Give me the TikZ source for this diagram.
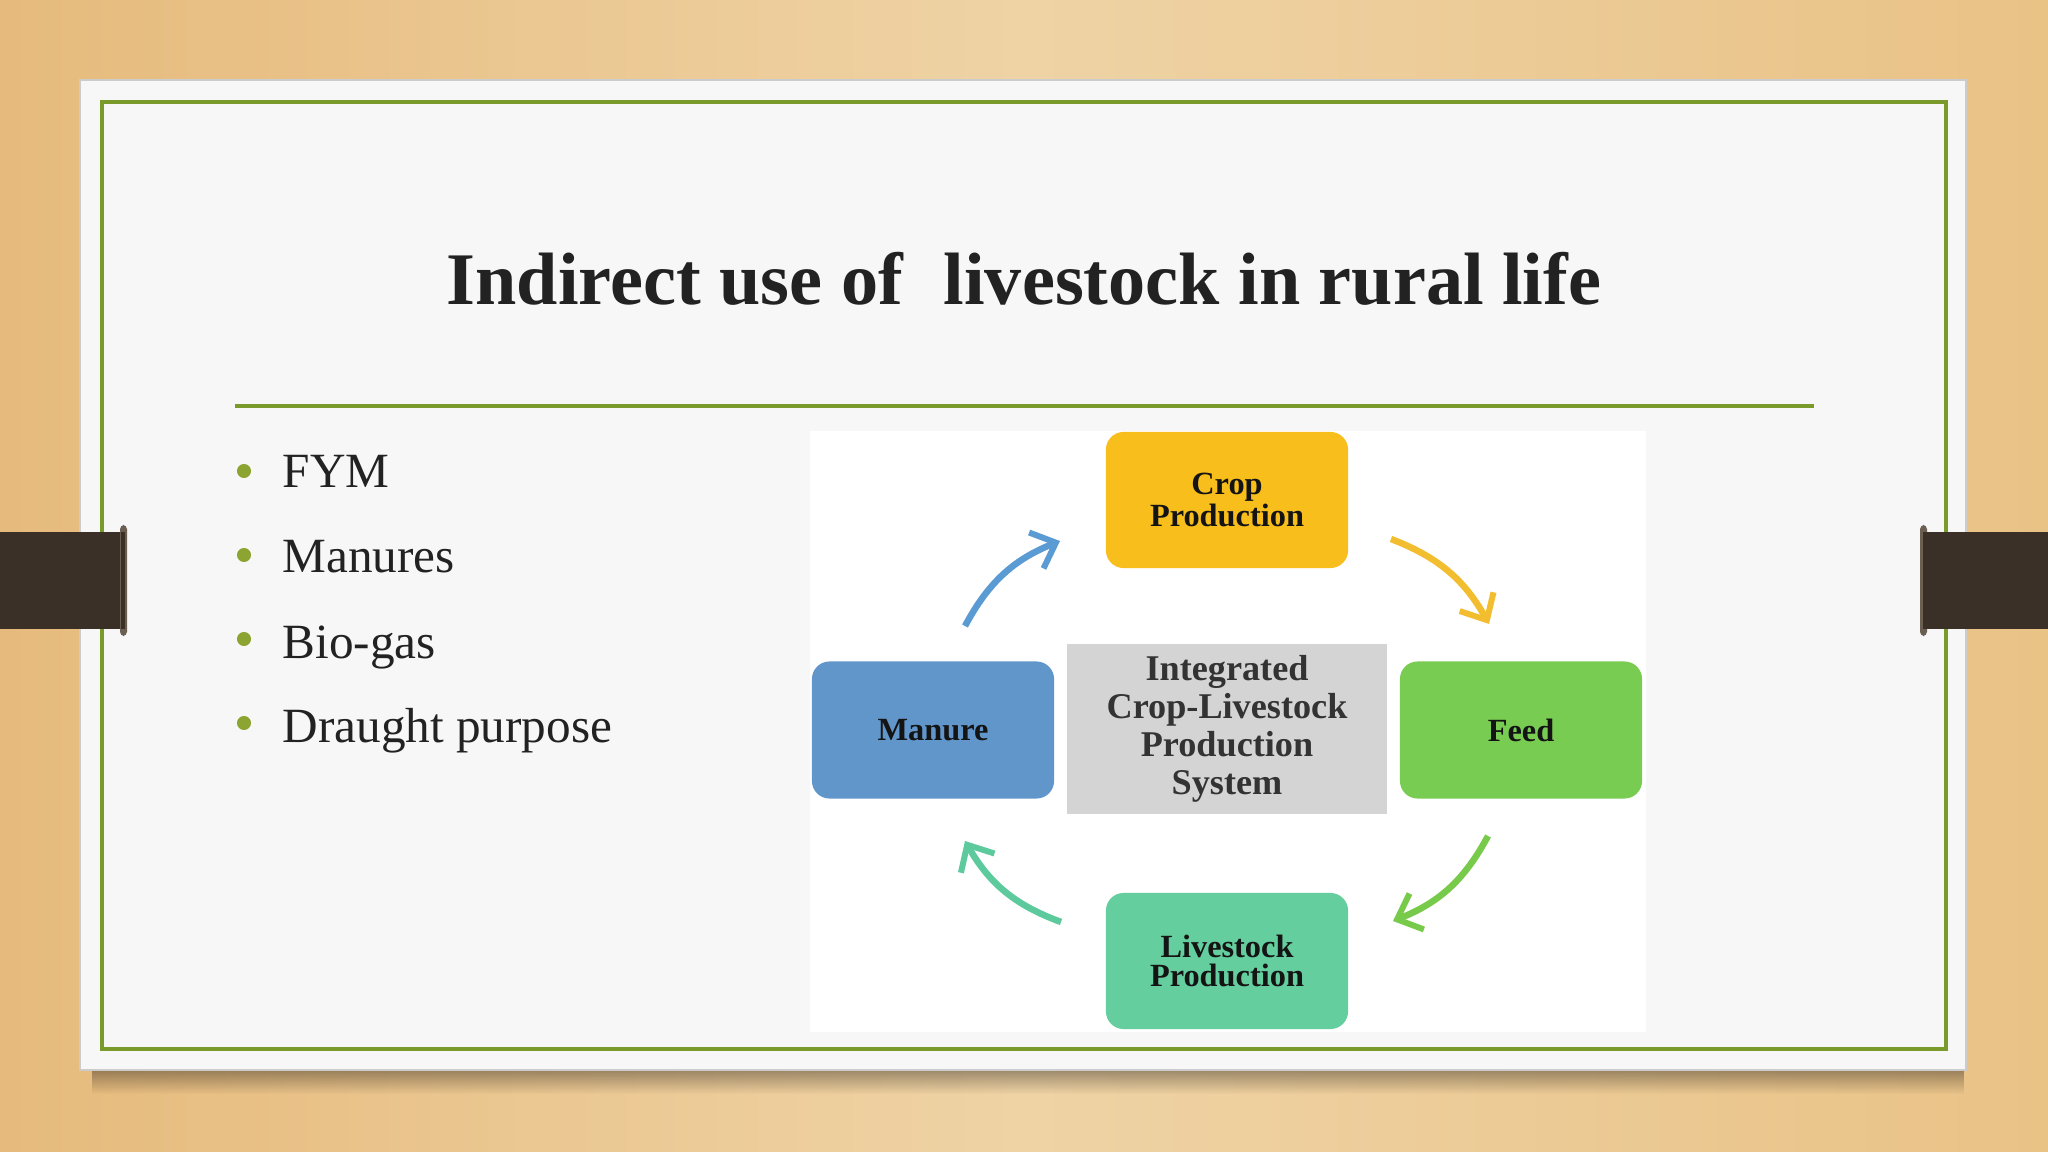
\documentclass[tikz,border=0pt]{standalone}
\usepackage{fontspec}
\setmainfont{Liberation Serif}
\usetikzlibrary{arrows.meta,fadings}
\definecolor{woodL}{HTML}{E6BA7C}
\definecolor{woodM}{HTML}{EFD3A5}
\definecolor{woodR}{HTML}{E9C286}
\definecolor{cardbg}{HTML}{F7F7F7}
\definecolor{olivegreen}{HTML}{7A9A2C}
\definecolor{bulletgreen}{HTML}{8CA532}
\definecolor{bandbrown}{HTML}{3A3027}
\definecolor{nubbrown}{HTML}{6A5F50}
\definecolor{txtdark}{HTML}{222222}
\definecolor{cropfill}{HTML}{F8BE1C}
\definecolor{manurefill}{HTML}{6196CB}
\definecolor{feedfill}{HTML}{79CC52}
\definecolor{livefill}{HTML}{64CE9E}
\definecolor{centerfill}{HTML}{D4D4D4}
\definecolor{arrblue}{HTML}{5B9BD3}
\definecolor{arryellow}{HTML}{F2BD2E}
\definecolor{arrgreen}{HTML}{78CB4A}
\definecolor{arrteal}{HTML}{5DCA9D}
\begin{document}
\begin{tikzpicture}[x=0.01cm,y=-0.01cm,
  colorbox/.style={rounded corners=5pt, minimum width=2.42cm, minimum height=1.36cm,
    inner sep=0pt, align=center, text=black!92,
    font={\fontsize{9.2}{8}\selectfont\bfseries}},
  centerbox/.style={minimum width=3.2cm, minimum height=1.7cm, inner sep=0pt,
    align=center, fill=centerfill, text=black!80,
    font={\fontsize{10.3}{10.8}\selectfont\bfseries}},
  cyclearrow/.style={line width=1.85pt, bend left=20,
    -{Straight Barb[length=6pt,width=11pt,line width=1.7pt]}},
  bullettext/.style={anchor=base west, inner sep=0pt, text=txtdark,
    font={\fontsize{14}{17}\selectfont}},
  bulletdot/.style={fill=bulletgreen}
]
\useasboundingbox (0,0) rectangle (2048,1152);
% wooden background
\shade[left color=woodL, right color=woodR, middle color=woodM] (0,0) rectangle (2048,1152);
% card shadow
\fill[black, opacity=0.4, path fading=south] (92,1066) rectangle (1964,1094);
% card
\fill[cardbg, draw=black!20, line width=0.3pt] (80,80) rectangle (1966,1070);
\draw[olivegreen, line width=0.9pt] (102,102) rectangle (1946,1049);
% title
\node[anchor=base, inner sep=0pt, text=txtdark, font={\fontsize{21.1}{25}\selectfont\bfseries}]
  (title) at (1024,305) {Indirect use of\hspace{0.3em} livestock in rural life};
% rule
\draw[olivegreen, line width=0.9pt] (235,406) -- (1814,406);
% bullets
\fill[bulletdot] (244,471) circle[radius=2pt];
\fill[bulletdot] (244,555) circle[radius=2pt];
\fill[bulletdot] (244,639) circle[radius=2pt];
\fill[bulletdot] (244,723) circle[radius=2pt];
\node[bullettext] (b1) at (282,488) {FYM};
\node[bullettext] (b2) at (282,573) {Manures};
\node[bullettext] (b3) at (282,658) {Bio-gas};
\node[bullettext] (b4) at (282,742) {Draught purpose};
% diagram area
\fill[white] (810,431) rectangle (1646,1032);
\node[colorbox, fill=cropfill] (crop) at (1227,500) {Crop\\Production};
\node[colorbox, fill=manurefill, minimum height=1.37cm] (manure) at (933,730) {Manure};
\node[colorbox, fill=feedfill, minimum height=1.37cm] (feed) at (1521,730) {Feed};
\node[colorbox, fill=livefill] (live) at (1227,961) {Livestock\\Production};
\node[centerbox] (center) at (1227,729) {Integrated\\Crop-Livestock\\Production\\System};
% arrow end points
\coordinate (b0) at (965,626);
\coordinate (b9) at (1060,541);
\coordinate (y0) at (1391,539);
\coordinate (y9) at (1489,624);
\coordinate (g0) at (1488,836);
\coordinate (g9) at (1393,921);
\coordinate (t0) at (1061,922);
\coordinate (t9) at (965,841);
\draw[cyclearrow, arrblue] (b0) to (b9);
\draw[cyclearrow, arryellow] (y0) to (y9);
\draw[cyclearrow, arrgreen] (g0) to (g9);
\draw[cyclearrow, arrteal] (t0) to (t9);
% side bands
\fill[bandbrown] (0,532) rectangle (122,629);
\fill[nubbrown, rounded corners=1.2pt] (120,525) rectangle (127,636);
\fill[bandbrown] (121,532) rectangle (125,629);
\fill[bandbrown] (1926,532) rectangle (2048,629);
\fill[nubbrown, rounded corners=1.2pt] (1920,525) rectangle (1927,636);
\fill[bandbrown] (1923,532) rectangle (1928,629);
\end{tikzpicture}
\end{document}
